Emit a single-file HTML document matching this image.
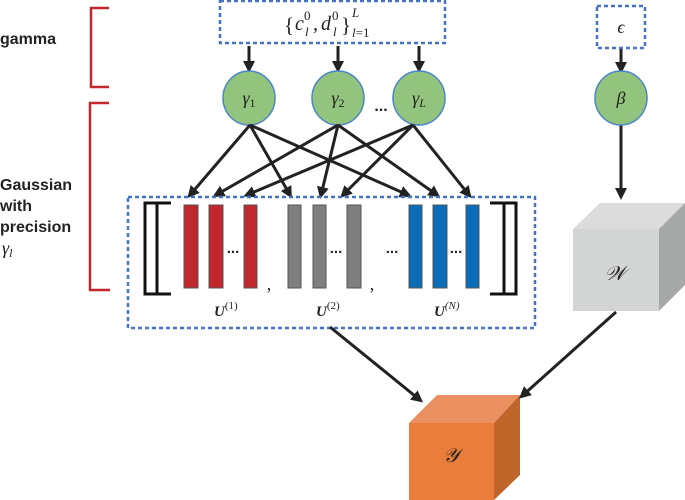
<!DOCTYPE html>
<html><head><meta charset="utf-8"><style>
html,body{margin:0;padding:0;background:#fff;}
svg{display:block;}
.lb{font-family:"Liberation Sans",sans-serif;font-weight:bold;font-size:16px;fill:#222;}
.m{font-family:"Liberation Serif",serif;font-style:italic;fill:#222;}
.n{font-family:"Liberation Serif",serif;fill:#222;}
</style></head><body>
<svg width="685" height="500" viewBox="0 0 685 500" xmlns="http://www.w3.org/2000/svg">
<defs>
<marker id="ah" markerWidth="12" markerHeight="12" refX="8" refY="6" orient="auto" markerUnits="userSpaceOnUse" viewBox="0 0 12 12">
<path d="M0,0 L12,6 L0,12 z" fill="#222"/>
</marker>
</defs>
<!-- labels -->
<text class="lb" x="0" y="44">gamma</text>
<text class="lb" x="0" y="190">Gaussian</text>
<text class="lb" x="0" y="211">with</text>
<text class="lb" x="0" y="232">precision</text>
<text class="m" x="2" y="254" font-size="18">γ<tspan font-size="12" dy="3">l</tspan></text>
<!-- red brackets -->
<path d="M109,8 L91,8 L91,87 L109,87" fill="none" stroke="#c0282d" stroke-width="2.5"/>
<path d="M109,103 L90,103 L90,290 L110,290" fill="none" stroke="#c0282d" stroke-width="2.5"/>
<!-- top boxes -->
<rect x="220" y="1" width="225" height="42" fill="none" stroke="#4472c4" stroke-width="2.5" stroke-dasharray="4,3"/>
<text class="n" x="284" y="32" font-size="21">{</text>
<text class="m" x="295" y="30" font-size="20">c</text>
<text class="n" x="304" y="20" font-size="13">0</text>
<text class="m" x="305" y="36" font-size="13">l</text>
<text class="n" x="313" y="30" font-size="20">,</text>
<text class="m" x="321" y="30" font-size="20">d</text>
<text class="n" x="332" y="20" font-size="13">0</text>
<text class="m" x="333" y="36" font-size="13">l</text>
<text class="n" x="341" y="32" font-size="21">}</text>
<text class="m" x="352" y="17" font-size="13">L</text>
<text class="m" x="352" y="37" font-size="13">l<tspan font-style="normal">=1</tspan></text>
<rect x="597" y="6" width="48" height="42" fill="none" stroke="#4472c4" stroke-width="2.5" stroke-dasharray="4,3"/>
<text class="m" x="621" y="33" font-size="18" text-anchor="middle">ϵ</text>
<!-- arrows to gammas -->
<g stroke="#222" stroke-width="3" marker-end="url(#ah)">
<line x1="249" y1="46" x2="249" y2="69"/>
<line x1="338" y1="46" x2="338" y2="69"/>
<line x1="419" y1="46" x2="419" y2="69"/>
<line x1="621" y1="49" x2="621" y2="70"/>
<line x1="621" y1="125" x2="621" y2="196"/>
</g>
<!-- circles -->
<g fill="#93c47d" stroke="#4a86c8" stroke-width="1.5">
<ellipse cx="249" cy="98" rx="26" ry="27"/>
<ellipse cx="338" cy="98" rx="26" ry="27"/>
<ellipse cx="419" cy="98" rx="26" ry="27"/>
<ellipse cx="621" cy="98" rx="26" ry="27"/>
</g>
<text class="m" x="249" y="104" font-size="18" text-anchor="middle">γ<tspan font-size="12" font-style="normal" dy="3">1</tspan></text>
<text class="m" x="338" y="104" font-size="18" text-anchor="middle">γ<tspan font-size="12" font-style="normal" dy="3">2</tspan></text>
<text class="m" x="419" y="104" font-size="18" text-anchor="middle">γ<tspan font-size="12" dy="3">L</tspan></text>
<text class="m" x="621" y="104" font-size="18" text-anchor="middle">β</text>
<text x="381" y="111" font-family="Liberation Sans" font-weight="bold" font-size="16" text-anchor="middle" fill="#222">...</text>
<!-- cross arrows -->
<g stroke="#222" stroke-width="3" marker-end="url(#ah)">
<line x1="250" y1="125" x2="190" y2="195"/>
<line x1="250" y1="125" x2="290" y2="195"/>
<line x1="250" y1="125" x2="408" y2="195"/>
<line x1="338" y1="125" x2="216" y2="195"/>
<line x1="338" y1="125" x2="321" y2="195"/>
<line x1="338" y1="125" x2="437" y2="195"/>
<line x1="413" y1="125" x2="247" y2="195"/>
<line x1="413" y1="125" x2="343" y2="195"/>
<line x1="413" y1="125" x2="469" y2="195"/>
</g>
<!-- U box -->
<rect x="128" y="197" width="407" height="131" fill="none" stroke="#4472c4" stroke-width="2.5" stroke-dasharray="4,3"/>
<!-- brackets -->
<g fill="none" stroke="#111" stroke-width="3">
<rect x="145" y="203" width="12" height="91"/>
<line x1="157" y1="203" x2="171" y2="203"/>
<line x1="157" y1="294" x2="171" y2="294"/>
<rect x="504" y="203" width="12" height="91"/>
<line x1="490" y1="203" x2="504" y2="203"/>
<line x1="490" y1="294" x2="504" y2="294"/>
</g>
<!-- bars -->
<g stroke="#555" stroke-width="1">
<rect x="184" y="205" width="14" height="83" fill="#c0282d"/>
<rect x="209" y="205" width="14" height="83" fill="#c0282d"/>
<rect x="244" y="205" width="13" height="83" fill="#c0282d"/>
<rect x="288" y="205" width="13" height="83" fill="#7f7f7f"/>
<rect x="313" y="205" width="13" height="83" fill="#7f7f7f"/>
<rect x="347" y="205" width="14" height="83" fill="#7f7f7f"/>
<rect x="409" y="205" width="13" height="83" fill="#0a6cb6"/>
<rect x="433" y="205" width="14" height="83" fill="#0a6cb6"/>
<rect x="466" y="205" width="13" height="83" fill="#0a6cb6"/>
</g>
<g font-family="Liberation Sans" font-weight="bold" font-size="15" fill="#222" text-anchor="middle">
<text x="233" y="253">...</text><text x="336" y="253">...</text><text x="392" y="253">...</text><text x="456" y="253">...</text>
</g>
<text class="n" x="269" y="290" font-size="18" text-anchor="middle">,</text>
<text class="n" x="372" y="290" font-size="18" text-anchor="middle">,</text>
<g class="m" font-size="15" font-weight="bold">
<text x="214" y="316">U<tspan font-size="11" font-weight="normal" font-style="normal" dy="-7">(1)</tspan></text>
<text x="316" y="316">U<tspan font-size="11" font-weight="normal" font-style="normal" dy="-7">(2)</tspan></text>
<text x="434" y="316">U<tspan font-size="11" font-weight="normal" dy="-7">(<tspan font-style="italic">N</tspan>)</tspan></text>
</g>
<!-- W cube -->
<polygon points="573,229 600,203 685,203 659,229" fill="#dcdcdc"/>
<polygon points="659,229 685,203 685,285 659,311" fill="#a6a8a8"/>
<rect x="573" y="229" width="86" height="82" fill="#d3d4d4"/>
<text class="m" x="615" y="280" font-size="20" text-anchor="middle">𝒲</text>
<!-- Y cube -->
<polygon points="409,423 437,395 520,395 494,423" fill="#ea9060"/>
<polygon points="494,423 520,395 520,475 494,500" fill="#c0652a"/>
<rect x="409" y="423" width="85" height="77" fill="#ea7d3b"/>
<text class="m" x="451" y="462" font-size="20" text-anchor="middle">𝒴</text>
<!-- bottom arrows -->
<g stroke="#222" stroke-width="3" marker-end="url(#ah)">
<line x1="330" y1="327" x2="420" y2="400"/>
<line x1="616" y1="312" x2="522" y2="396"/>
</g>
</svg>
</body></html>
